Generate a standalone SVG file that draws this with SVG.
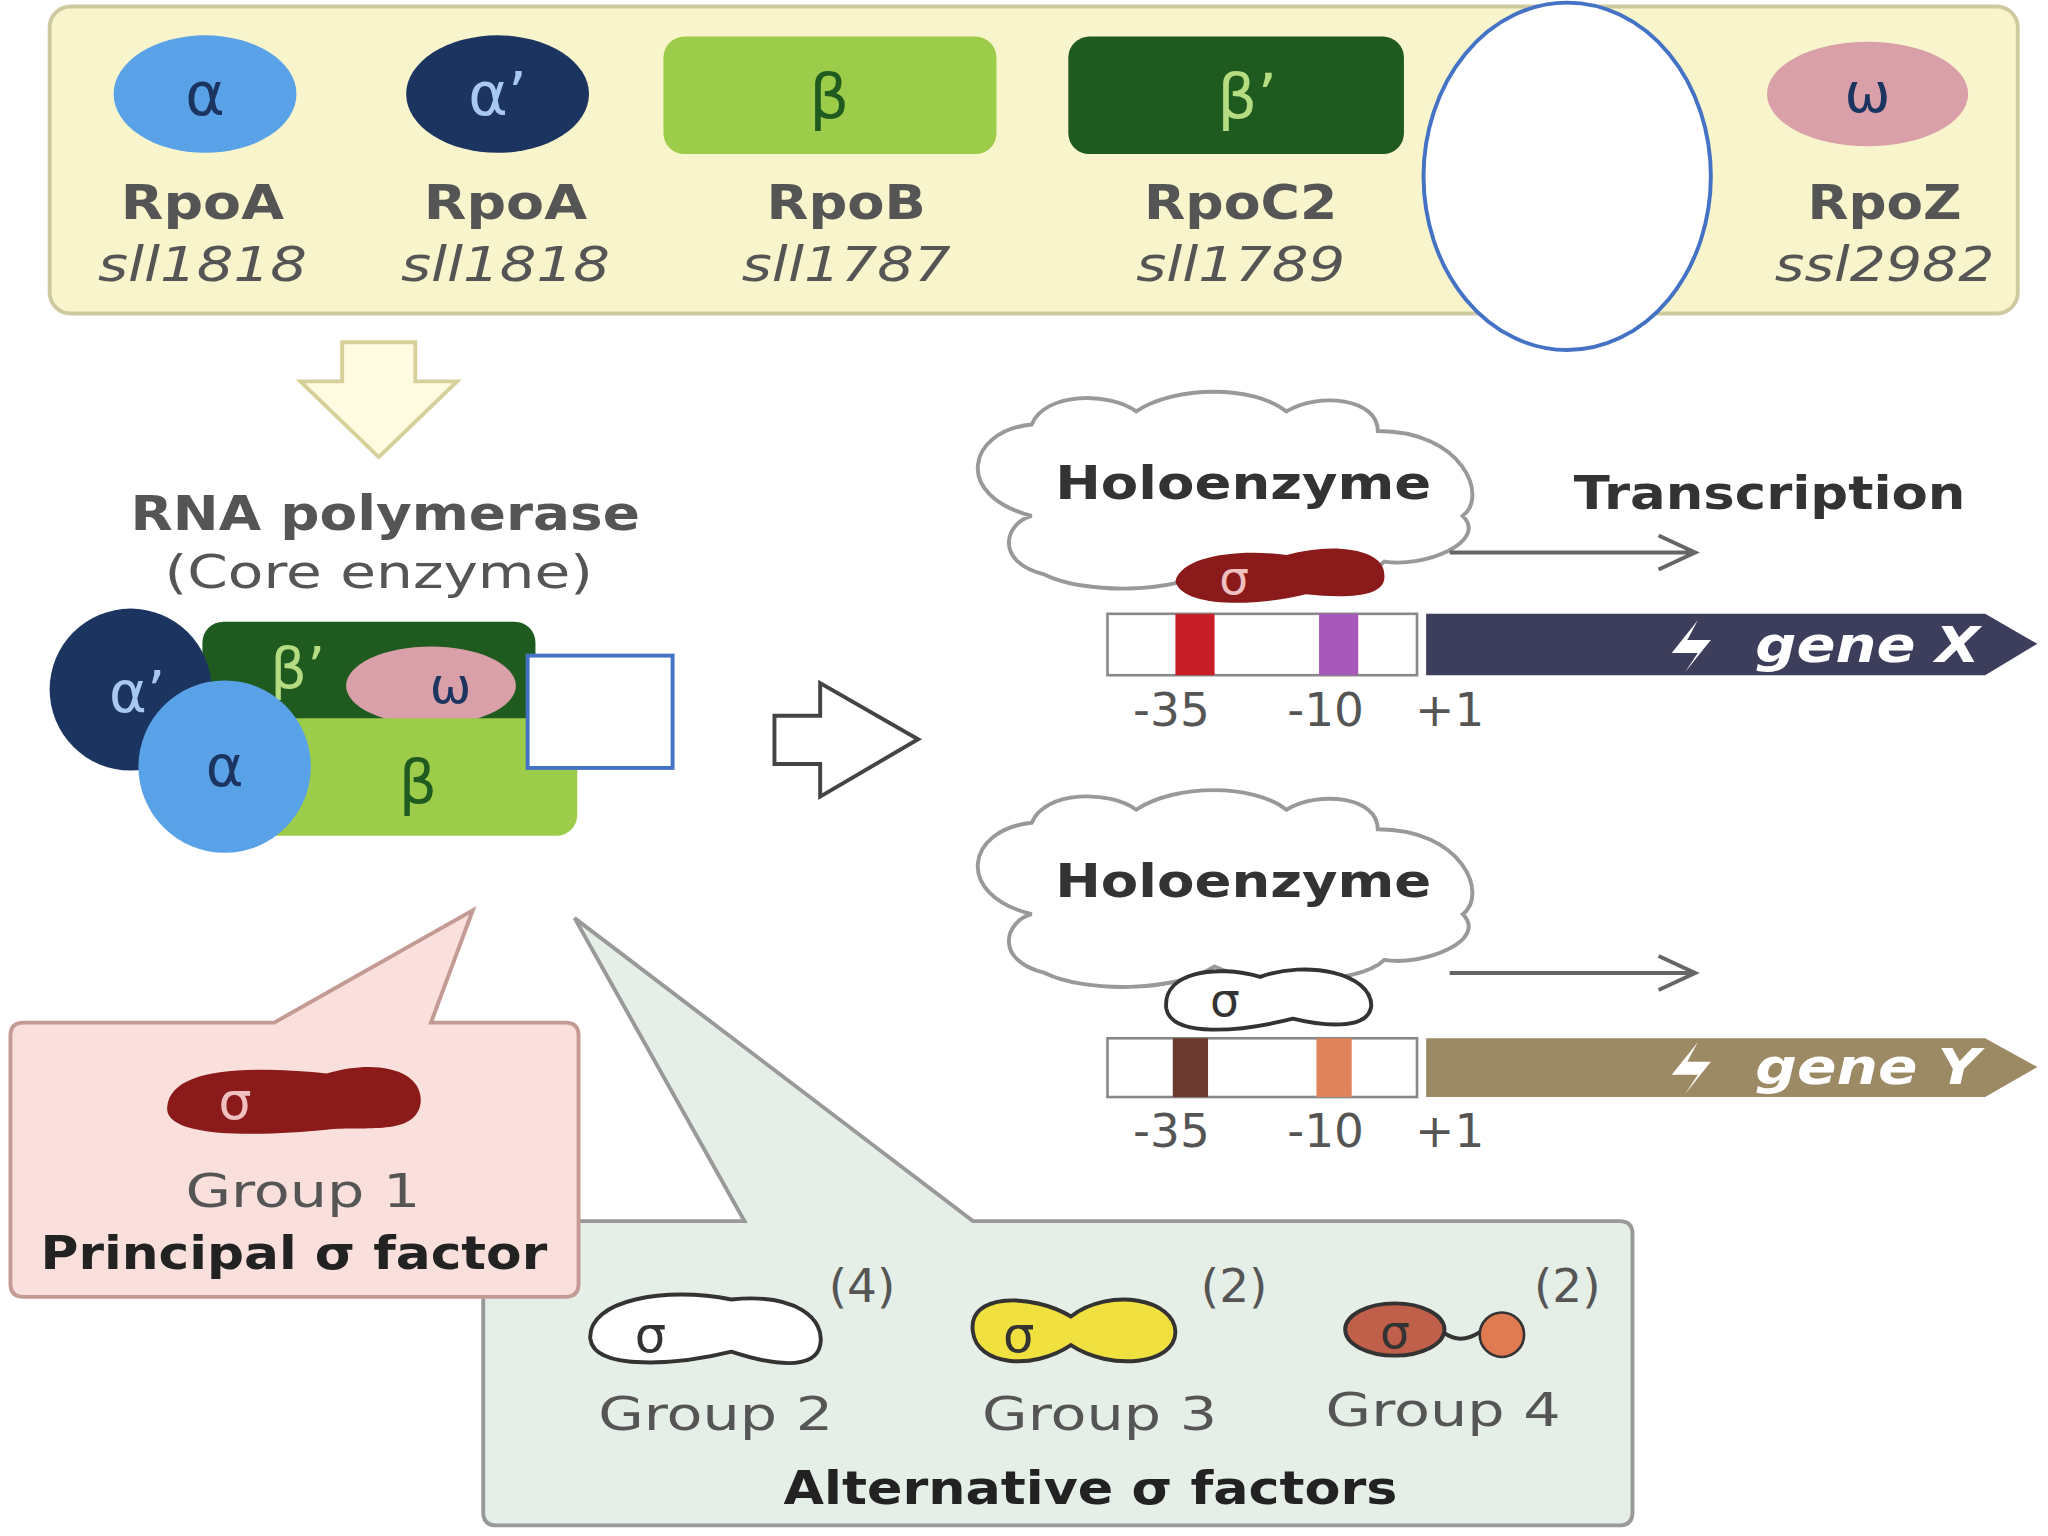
<svg xmlns="http://www.w3.org/2000/svg" width="2048" height="1536" viewBox="0 0 2048 1536">
<style>
.t{font-family:"DejaVu Sans","Open Sans",sans-serif}
.b{font-weight:bold}
.i{font-style:italic}
.g{font-family:"DejaVu Sans",sans-serif}
</style>
<rect width="2048" height="1536" fill="#fff"/>
<g transform="scale(1.306)" fill="#555">
<g id="panel"><rect x="38" y="5" width="1507" height="235" rx="16" fill="#f8f4cc" stroke="#cfc9a0" stroke-width="3"/></g>
<g id="alpha"><ellipse cx="157" cy="72" rx="70" ry="45" fill="#5aa2e8"/><text x="157" y="88" text-anchor="middle" class="g" font-size="46" fill="#1c3560">α</text>
<text x="155" y="168" text-anchor="middle" class="t b" font-size="37" textLength="125" lengthAdjust="spacingAndGlyphs">RpoA</text><text x="155" y="215" text-anchor="middle" class="t i" font-size="37" textLength="160" lengthAdjust="spacingAndGlyphs">sll1818</text></g>
<g id="alpha2"><ellipse cx="381" cy="72" rx="70" ry="45" fill="#1c3560"/><text x="381" y="88" text-anchor="middle" class="g" font-size="46" fill="#a8c8f0">α’</text>
<text x="387" y="168" text-anchor="middle" class="t b" font-size="37" textLength="125" lengthAdjust="spacingAndGlyphs">RpoA</text><text x="387" y="215" text-anchor="middle" class="t i" font-size="37" textLength="160" lengthAdjust="spacingAndGlyphs">sll1818</text></g>
<g id="beta"><rect x="508" y="28" width="255" height="90" rx="16" fill="#9ccc4a"/><text x="635" y="90" text-anchor="middle" class="g" font-size="48" fill="#1f5a1f">β</text>
<text x="648" y="168" text-anchor="middle" class="t b" font-size="37" textLength="122" lengthAdjust="spacingAndGlyphs">RpoB</text><text x="648" y="215" text-anchor="middle" class="t i" font-size="37" textLength="160" lengthAdjust="spacingAndGlyphs">sll1787</text></g>
<g id="beta2"><rect x="818" y="28" width="257" height="90" rx="16" fill="#1f5a1f"/><text x="955" y="90" text-anchor="middle" class="g" font-size="48" fill="#b5dc80">β’</text>
<text x="950" y="168" text-anchor="middle" class="t b" font-size="37" textLength="148" lengthAdjust="spacingAndGlyphs">RpoC2</text><text x="950" y="215" text-anchor="middle" class="t i" font-size="37" textLength="160" lengthAdjust="spacingAndGlyphs">sll1789</text></g>
<g id="blank"><ellipse cx="1200" cy="135" rx="110" ry="133" fill="#fff" stroke="#4472c4" stroke-width="3"/></g>
<g id="omega"><ellipse cx="1430" cy="72" rx="77" ry="40" fill="#d9a0aa"/><text x="1430" y="86" text-anchor="middle" class="g" font-size="42" fill="#1c3560">ω</text>
<text x="1443" y="168" text-anchor="middle" class="t b" font-size="37" textLength="118" lengthAdjust="spacingAndGlyphs">RpoZ</text><text x="1443" y="215" text-anchor="middle" class="t i" font-size="37" textLength="168" lengthAdjust="spacingAndGlyphs">ssl2982</text></g>
<g id="downarrow"><path d="M262,262 H318 V292 H350 L290,350 L230,292 H262 Z" fill="#fffbe0" stroke="#d6d09a" stroke-width="3"/></g>
<g id="core">
<text x="295" y="406" text-anchor="middle" class="t b" font-size="37" textLength="390" lengthAdjust="spacingAndGlyphs">RNA polymerase</text>
<text x="290" y="450" text-anchor="middle" class="t" font-size="36" textLength="328" lengthAdjust="spacingAndGlyphs">(Core enzyme)</text>
<rect x="155" y="476" width="255" height="90" rx="16" fill="#1f5a1f"/>
<text x="228" y="527" text-anchor="middle" class="g" font-size="44" fill="#b5dc80">β’</text>
<ellipse cx="330" cy="525" rx="65" ry="30" fill="#d9a0aa"/><text x="345" y="538" text-anchor="middle" class="g" font-size="38" fill="#1c3560">ω</text>
<circle cx="100" cy="528" r="62" fill="#1c3560"/><text x="105" y="545" text-anchor="middle" class="g" font-size="44" fill="#a8c8f0">α’</text>
<rect x="190" y="550" width="252" height="90" rx="16" fill="#9ccc4a"/><text x="320" y="615" text-anchor="middle" class="g" font-size="46" fill="#1f5a1f">β</text>
<circle cx="172" cy="587" r="66" fill="#5aa2e8"/><text x="172" y="602" text-anchor="middle" class="g" font-size="44" fill="#1c3560">α</text>
<rect x="404" y="502" width="111" height="86" fill="#fff" stroke="#4472c4" stroke-width="3"/>
</g>
<g id="rightarrow"><path d="M593,548 H628 V523 L703,566 L628,610 V585 H593 Z" fill="#fff" stroke="#444" stroke-width="3"/></g>
<g id="holo1">
<path d="M800,440 C760,430 770,400 790,395 C730,380 740,330 790,325 C800,300 850,300 870,315 C900,295 960,295 985,315 C1010,300 1055,305 1055,330 C1120,330 1140,380 1120,395 C1140,415 1090,435 1060,430 C1040,450 960,450 930,435 C900,455 830,455 800,440 Z" fill="#fff" stroke="#999" stroke-width="3"/>
<text x="952" y="382" text-anchor="middle" class="t b" font-size="36" fill="#333" textLength="288" lengthAdjust="spacingAndGlyphs">Holoenzyme</text>
<path d="M900,445 C905,425 950,420 985,425 C1020,415 1060,420 1060,440 C1062,458 1030,458 1000,455 C960,465 905,465 900,445 Z" fill="#8b1a1a"/>
<text x="945" y="455" text-anchor="middle" class="g" font-size="36" fill="#f0c0c0">σ</text>
<rect x="848" y="470" width="237" height="47" fill="#fff" stroke="#888" stroke-width="2"/>
<rect x="900" y="470" width="30" height="47" fill="#c81e2a"/><rect x="1010" y="470" width="30" height="47" fill="#a858b8"/>
<path d="M1092,470 H1520 L1560,493 L1520,517 H1092 Z" fill="#3d3d5c"/>
<path d="M1300,475 L1280,500 H1300 L1290,515 L1310,490 H1292 Z" fill="#fff"/>
<text x="1430" y="507" text-anchor="middle" class="t b i" font-size="38" fill="#fff" textLength="172" lengthAdjust="spacingAndGlyphs">gene X</text>
<text x="897" y="556" text-anchor="middle" class="t" font-size="36">-35</text><text x="1015" y="556" text-anchor="middle" class="t" font-size="36">-10</text><text x="1110" y="556" text-anchor="middle" class="t" font-size="36">+1</text>
<text x="1355" y="390" text-anchor="middle" class="t b" font-size="36" fill="#333" textLength="300" lengthAdjust="spacingAndGlyphs">Transcription</text>
<path d="M1110,423 H1298 M1270,410 L1298,423 L1270,436" fill="none" stroke="#666" stroke-width="3"/>
</g>
<g id="holo2">
<path d="M800,745 C760,735 770,705 790,700 C730,685 740,635 790,630 C800,605 850,605 870,620 C900,600 960,600 985,620 C1010,605 1055,610 1055,635 C1120,635 1140,685 1120,700 C1140,720 1090,740 1060,735 C1040,755 960,755 930,740 C900,760 830,760 800,745 Z" fill="#fff" stroke="#999" stroke-width="3"/>
<text x="952" y="687" text-anchor="middle" class="t b" font-size="36" fill="#333" textLength="288" lengthAdjust="spacingAndGlyphs">Holoenzyme</text>
<path d="M893,772 C890,745 930,738 965,748 C1000,735 1050,745 1050,770 C1048,790 1010,785 990,780 C950,790 897,795 893,772 Z" fill="#fff" stroke="#333" stroke-width="3"/>
<text x="938" y="778" text-anchor="middle" class="g" font-size="36" fill="#333">σ</text>
<rect x="848" y="795" width="237" height="45" fill="#fff" stroke="#888" stroke-width="2"/>
<rect x="898" y="795" width="27" height="45" fill="#6b3a2e"/><rect x="1008" y="795" width="27" height="45" fill="#e0825a"/>
<path d="M1092,795 H1520 L1560,817 L1520,840 H1092 Z" fill="#9c8a64"/>
<path d="M1300,798 L1280,823 H1300 L1290,838 L1310,813 H1292 Z" fill="#fff"/>
<text x="1430" y="830" text-anchor="middle" class="t b i" font-size="38" fill="#fff" textLength="172" lengthAdjust="spacingAndGlyphs">gene Y</text>
<text x="897" y="878" text-anchor="middle" class="t" font-size="36">-35</text><text x="1015" y="878" text-anchor="middle" class="t" font-size="36">-10</text><text x="1110" y="878" text-anchor="middle" class="t" font-size="36">+1</text>
<path d="M1110,745 H1298 M1270,732 L1298,745 L1270,758" fill="none" stroke="#666" stroke-width="3"/>
</g>
<g id="alt">
<path d="M380,935 H570 L440,703 L745,935 H1240 Q1250,935 1250,945 V1158 Q1250,1168 1240,1168 H380 Q370,1168 370,1158 V945 Q370,935 380,935 Z" fill="#e6eee8" stroke="#999" stroke-width="3"/>
<path d="M452,1025 C450,995 510,985 560,995 C610,990 632,1010 628,1030 C624,1050 590,1045 560,1035 C520,1045 455,1050 452,1025 Z" fill="#fff" stroke="#333" stroke-width="3"/>
<text x="498" y="1035" text-anchor="middle" class="g" font-size="38" fill="#333">σ</text>
<text x="660" y="997" text-anchor="middle" class="t" font-size="36">(4)</text>
<path d="M745,1020 C740,990 790,990 820,1008 C850,985 900,995 900,1020 C900,1045 850,1050 820,1030 C790,1050 748,1045 745,1020 Z" fill="#f0e040" stroke="#333" stroke-width="3"/>
<text x="780" y="1035" text-anchor="middle" class="g" font-size="38" fill="#333">σ</text>
<text x="945" y="997" text-anchor="middle" class="t" font-size="36">(2)</text>
<ellipse cx="1068" cy="1018" rx="38" ry="20" fill="#c0604a" stroke="#333" stroke-width="3"/>
<path d="M1105,1020 Q1118,1030 1133,1020" fill="none" stroke="#333" stroke-width="3"/>
<circle cx="1150" cy="1022" r="17" fill="#e07a50" stroke="#333" stroke-width="2"/>
<text x="1068" y="1032" text-anchor="middle" class="g" font-size="36" fill="#333">σ</text>
<text x="1200" y="997" text-anchor="middle" class="t" font-size="36">(2)</text>
<text x="548" y="1095" text-anchor="middle" class="t" font-size="36" textLength="180" lengthAdjust="spacingAndGlyphs">Group 2</text>
<text x="842" y="1095" text-anchor="middle" class="t" font-size="36" textLength="180" lengthAdjust="spacingAndGlyphs">Group 3</text>
<text x="1105" y="1092" text-anchor="middle" class="t" font-size="36" textLength="180" lengthAdjust="spacingAndGlyphs">Group 4</text>
<text x="835" y="1152" text-anchor="middle" class="t b" font-size="36" fill="#222" textLength="470" lengthAdjust="spacingAndGlyphs">Alternative σ factors</text>
</g>
<g id="group1">
<path d="M18,783 H210 L362,697 L330,783 H433 Q443,783 443,793 V983 Q443,993 433,993 H18 Q8,993 8,983 V793 Q8,783 18,783 Z" fill="#f9e0dc" stroke="#c49a94" stroke-width="3"/>
<path d="M128,848 C130,820 180,815 250,822 C290,810 325,820 322,845 C318,870 280,862 250,865 C200,870 126,872 128,848 Z" fill="#8b1a1a"/>
<text x="180" y="857" text-anchor="middle" class="g" font-size="40" fill="#f0c0c0">σ</text>
<text x="232" y="924" text-anchor="middle" class="t" font-size="36" textLength="180" lengthAdjust="spacingAndGlyphs">Group 1</text>
<text x="225" y="972" text-anchor="middle" class="t b" font-size="36" fill="#222" textLength="388" lengthAdjust="spacingAndGlyphs">Principal σ factor</text>
</g>
</g>
</svg>
